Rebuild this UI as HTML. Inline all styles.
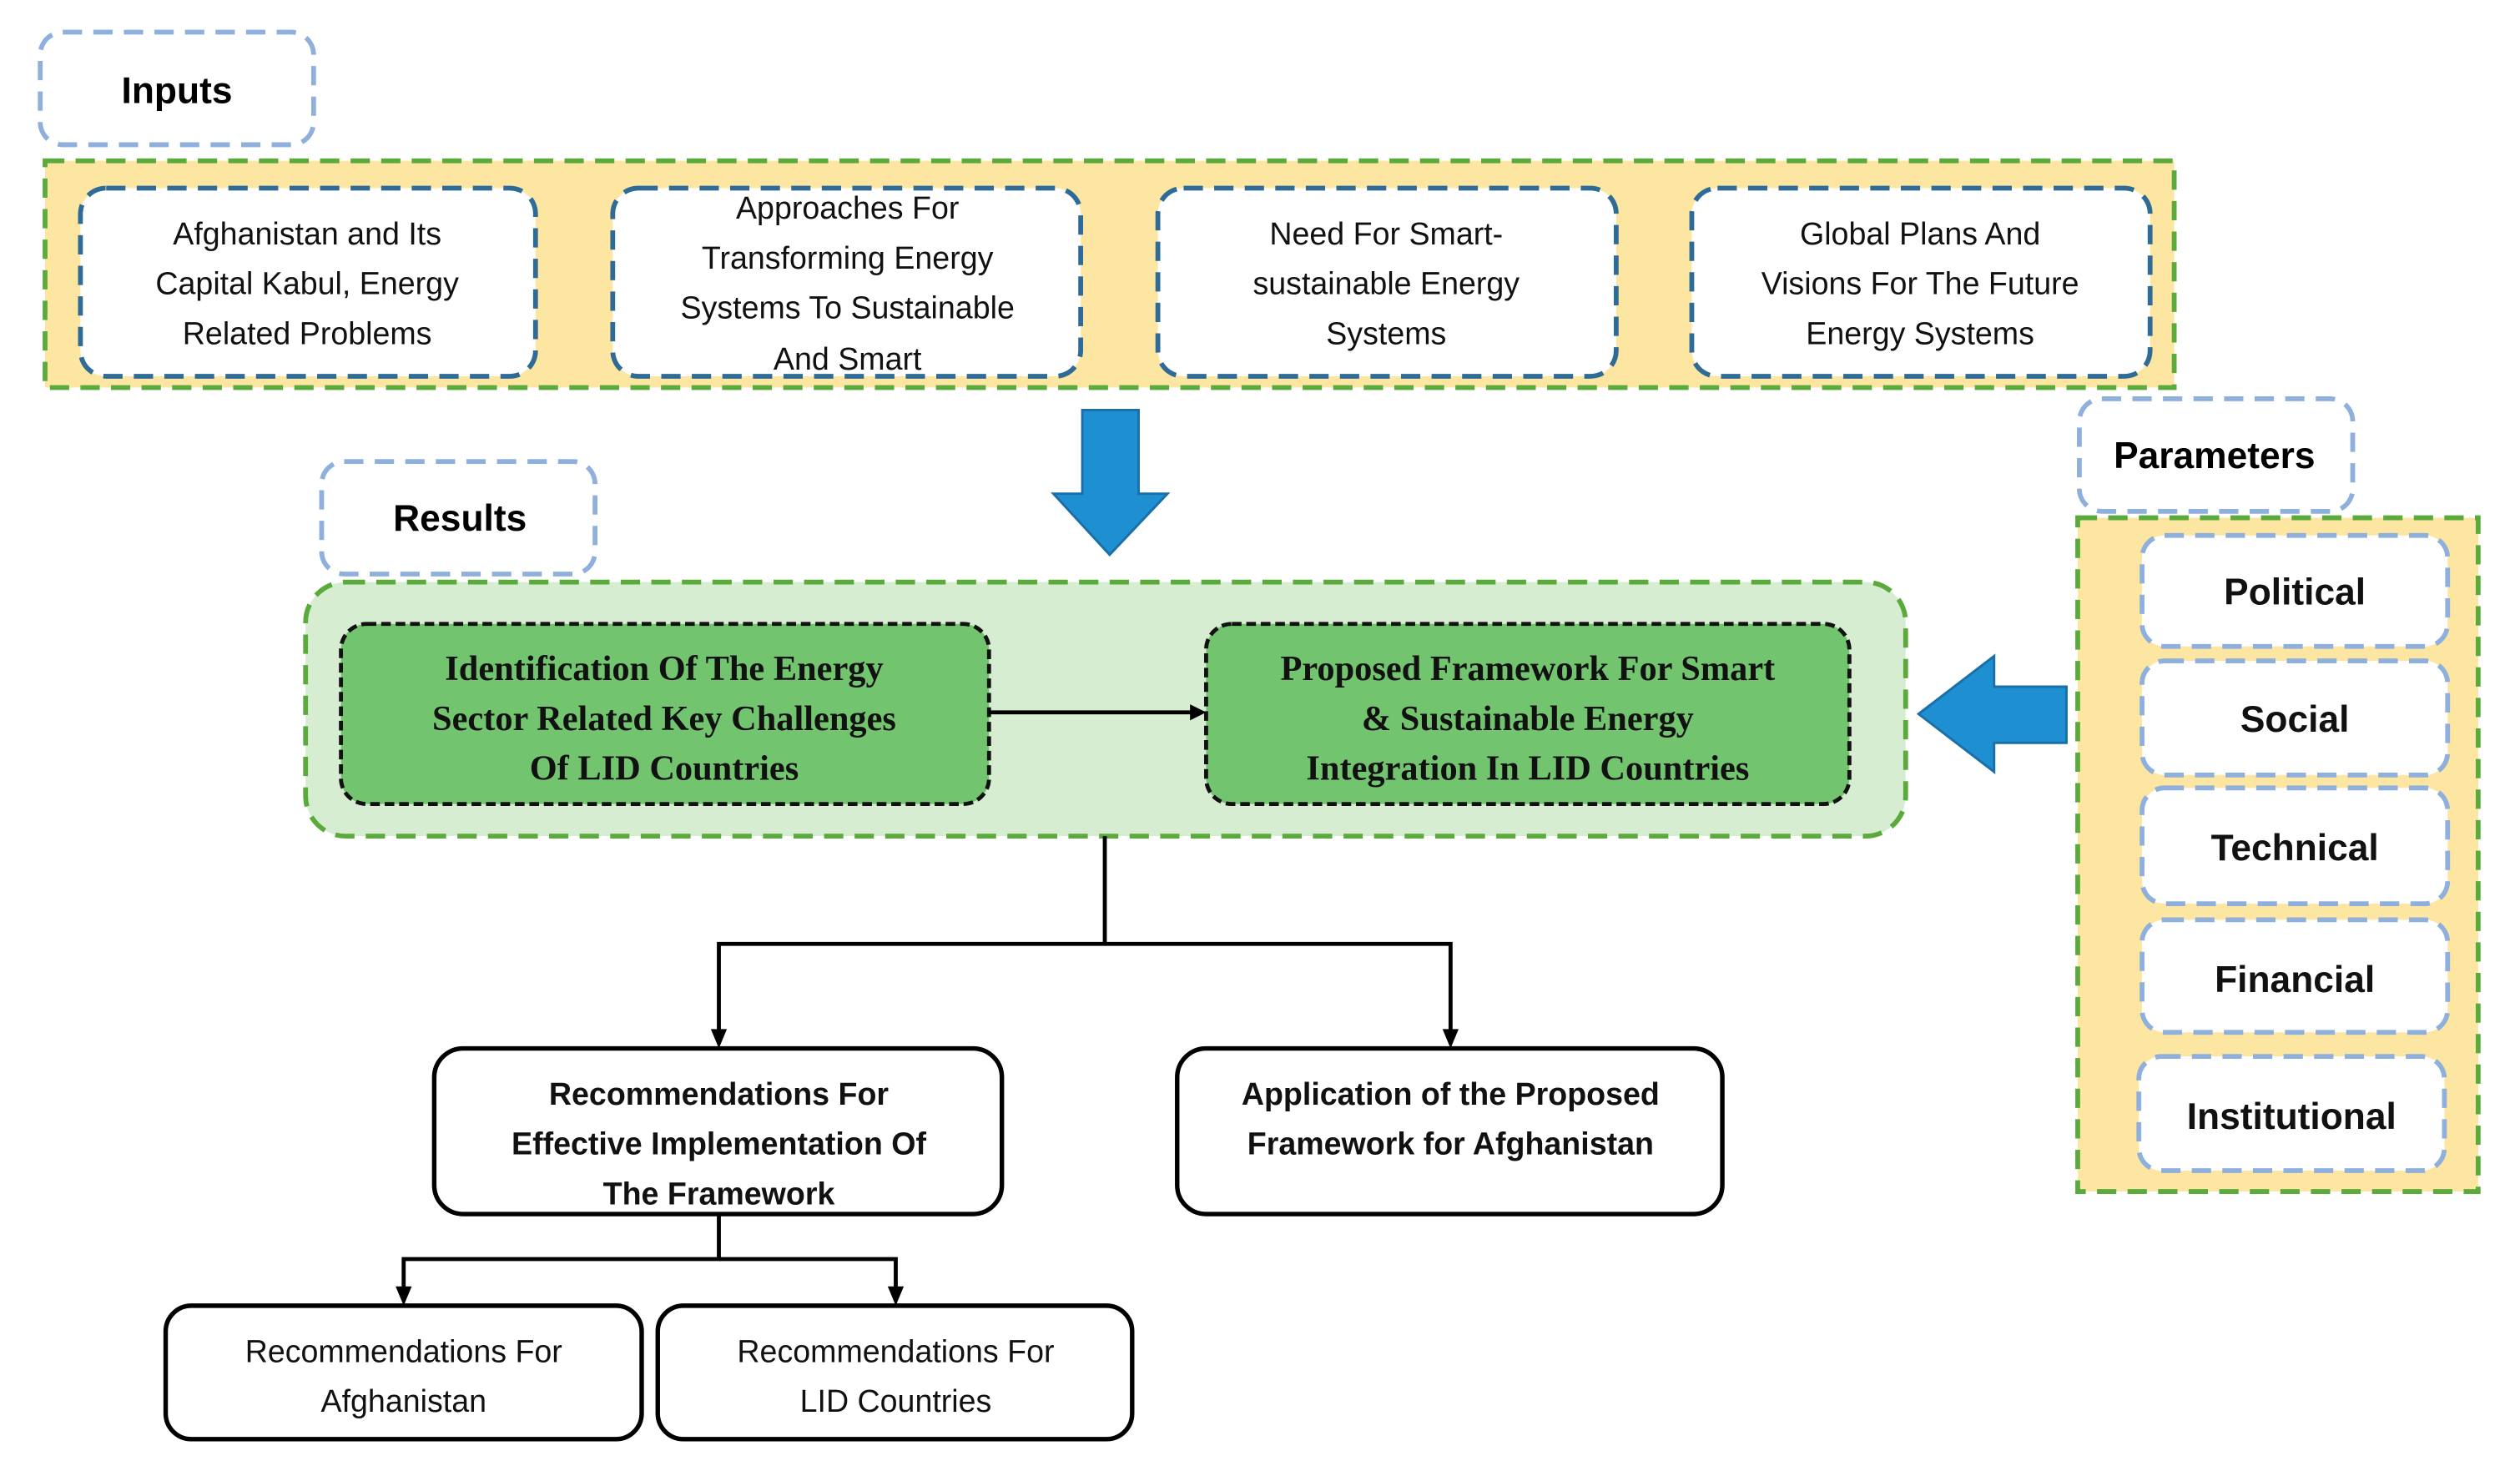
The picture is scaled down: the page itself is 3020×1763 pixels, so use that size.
<!DOCTYPE html>
<html><head><meta charset="utf-8"><style>html,body{margin:0;padding:0;background:#fff}svg{display:block}</style></head>
<body>
<svg width="3020" height="1763" viewBox="0 0 1567 914.8" xmlns="http://www.w3.org/2000/svg">
<g font-family="Liberation Sans, sans-serif" text-anchor="middle">
<!-- Inputs -->
<rect x="25" y="20" width="170" height="70" rx="14" fill="#fff" stroke="#8fb0dc" stroke-width="3" stroke-dasharray="12,7"/>
<text x="110" y="64" font-size="23" font-weight="bold">Inputs</text>
<rect x="28" y="100" width="1324" height="141" fill="#fde5a2" stroke="#5aaa3c" stroke-width="3" stroke-dasharray="12,7"/>
<g fill="#fff" stroke="#2e6b96" stroke-width="3" stroke-dasharray="12,7">
<rect x="50" y="117" width="283" height="117" rx="16"/>
<rect x="381" y="117" width="291" height="117" rx="16"/>
<rect x="720" y="117" width="285" height="117" rx="16"/>
<rect x="1052" y="117" width="285" height="117" rx="16"/>
</g>
<g font-size="19.5" fill="#111">
<text x="191" y="152">Afghanistan and Its</text><text x="191" y="183">Capital Kabul, Energy</text><text x="191" y="214">Related Problems</text>
<text x="527" y="136">Approaches For</text><text x="527" y="167">Transforming Energy</text><text x="527" y="198">Systems To Sustainable</text><text x="527" y="230">And Smart</text>
<text x="862" y="152">Need For Smart-</text><text x="862" y="183">sustainable Energy</text><text x="862" y="214">Systems</text>
<text x="1194" y="152">Global Plans And</text><text x="1194" y="183">Visions For The Future</text><text x="1194" y="214">Energy Systems</text>
</g>
<!-- down arrow -->
<path d="M673,255 L708,255 L708,307 L726,307 L690,345 L655,307 L673,307 Z" fill="#1e8fd0" stroke="#1a6fa8" stroke-width="1.5"/>
<!-- Results -->
<rect x="200" y="287" width="170" height="70" rx="14" fill="#fff" stroke="#8fb0dc" stroke-width="3" stroke-dasharray="12,7"/>
<text x="286" y="330" font-size="23" font-weight="bold">Results</text>
<rect x="190" y="362" width="995" height="158" rx="25" fill="#d6edd1" stroke="#5aaa3c" stroke-width="3" stroke-dasharray="12,7"/>
<g fill="#73c46f" stroke="#111" stroke-width="2.5" stroke-dasharray="6,3">
<rect x="212" y="388" width="403" height="112" rx="16"/>
<rect x="750" y="388" width="400" height="112" rx="16"/>
</g>
<g font-family="Liberation Serif, serif" font-weight="bold" font-size="22" fill="#111">
<text x="413" y="423">Identification Of The Energy</text><text x="413" y="454">Sector Related Key Challenges</text><text x="413" y="485">Of LID Countries</text>
<text x="950" y="423">Proposed Framework For Smart</text><text x="950" y="454">&amp; Sustainable Energy</text><text x="950" y="485">Integration In LID Countries</text>
</g>
<line x1="615" y1="443" x2="742" y2="443" stroke="#000" stroke-width="2.5"/>
<path d="M740,438 L750,443 L740,448 Z" fill="#000"/>
<!-- left arrow -->
<path d="M1285,427 L1240,427 L1240,408 L1193,444 L1240,480 L1240,462 L1285,462 Z" fill="#1e8fd0" stroke="#1a6fa8" stroke-width="1.5"/>
<!-- Parameters -->
<rect x="1293" y="248" width="170" height="70" rx="14" fill="#fff" stroke="#8fb0dc" stroke-width="3" stroke-dasharray="12,7"/>
<text x="1377" y="291" font-size="23" font-weight="bold">Parameters</text>
<rect x="1292" y="322" width="249" height="419" fill="#fde5a2" stroke="#5aaa3c" stroke-width="3" stroke-dasharray="12,7"/>
<g fill="#fff" stroke="#8fb0dc" stroke-width="3" stroke-dasharray="12,7">
<rect x="1332" y="333" width="190" height="69" rx="14"/>
<rect x="1332" y="411" width="190" height="71" rx="14"/>
<rect x="1332" y="490" width="190" height="72" rx="14"/>
<rect x="1332" y="572" width="190" height="70" rx="14"/>
<rect x="1330" y="657" width="190" height="71" rx="14"/>
</g>
<g font-size="23" font-weight="bold" fill="#111">
<text x="1427" y="376">Political</text><text x="1427" y="455">Social</text><text x="1427" y="535">Technical</text><text x="1427" y="617">Financial</text><text x="1425" y="702">Institutional</text>
</g>
<!-- connectors -->
<g stroke="#000" stroke-width="2.5" fill="none">
<polyline points="687,520 687,587 447,587 447,642"/>
<polyline points="687,587 902,587 902,642"/>
<polyline points="447,755 447,783 251,783 251,802"/>
<polyline points="447,783 557,783 557,802"/>
</g>
<g fill="#000">
<path d="M442,640 L452,640 L447,652 Z"/>
<path d="M897,640 L907,640 L902,652 Z"/>
<path d="M246,800 L256,800 L251,812 Z"/>
<path d="M552,800 L562,800 L557,812 Z"/>
</g>
<g fill="#fff" stroke="#000" stroke-width="2.8">
<rect x="270" y="652" width="353" height="103" rx="18"/>
<rect x="732" y="652" width="339" height="103" rx="18"/>
<rect x="103" y="812" width="296" height="83" rx="16"/>
<rect x="409" y="812" width="295" height="83" rx="16"/>
</g>
<g font-size="19.5" font-weight="bold" fill="#111">
<text x="447" y="687">Recommendations For</text><text x="447" y="718">Effective Implementation Of</text><text x="447" y="749">The Framework</text>
<text x="902" y="687">Application of the Proposed</text><text x="902" y="718">Framework for Afghanistan</text>
</g>
<g font-size="19.5" fill="#111">
<text x="251" y="847">Recommendations For</text><text x="251" y="878">Afghanistan</text>
<text x="557" y="847">Recommendations For</text><text x="557" y="878">LID Countries</text>
</g>
</g>
</svg>
</body></html>
